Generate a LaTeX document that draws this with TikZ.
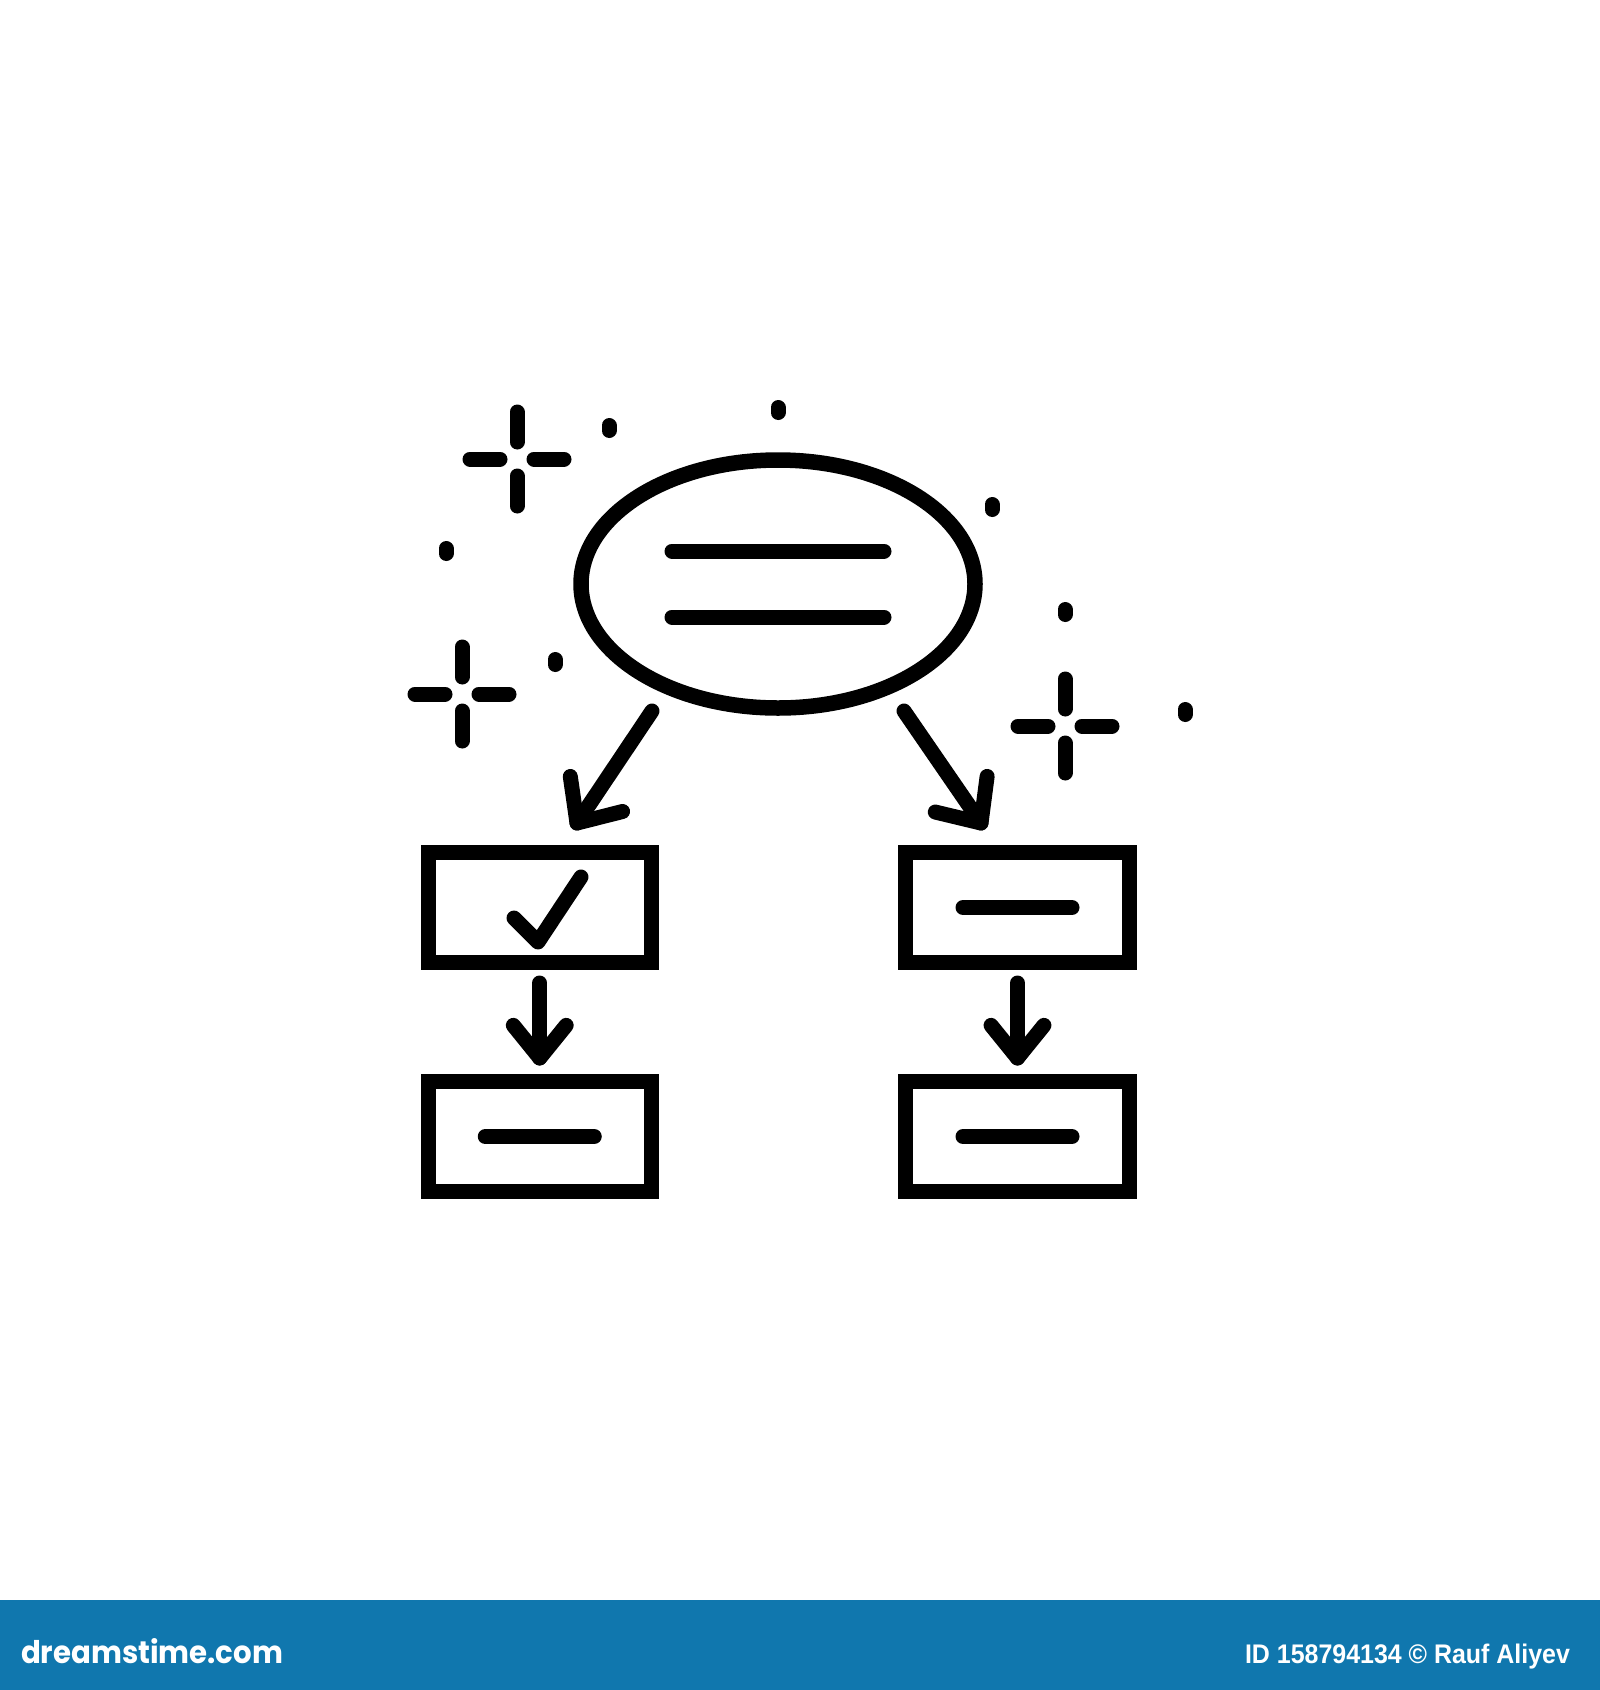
\documentclass[tikz,border=0pt]{standalone}
\usepackage{graphicx}
\usepackage{fontspec}
\setmainfont{Liberation Sans}
\newfontfamily\logofont{Poppins}
\newfontfamily\idfont{Liberation Sans}
\usetikzlibrary{calc,shapes.geometric}
\definecolor{bannerblue}{RGB}{16,119,174}
\tikzset{
  ink/.style={draw=black, line width=15pt, line cap=round, line join=round},
  boxnode/.style={draw=black, line width=15pt, rectangle, line join=miter,
    minimum width=223.5pt, minimum height=110pt, inner sep=0pt, outer sep=0pt},
  bubble/.style={draw=black, line width=15.5pt, ellipse,
    minimum width=394pt, minimum height=248pt, inner sep=0pt, outer sep=0pt},
  sparkle/.pic={\draw[ink] (0,-17)--(0,-47) (0,17)--(0,47) (-17,0)--(-47,0) (17,0)--(47,0);},
  speck/.pic={\draw[ink] (0,-2.5)--(0,2.5);},
  bannertext/.style={anchor=base west, inner sep=0pt, outer sep=0pt, text=white}
}
\begin{document}
\begin{tikzpicture}[x=1pt,y=-1pt]
\useasboundingbox (0,0) rectangle (1600,1690);
\fill[white] (0,0) rectangle (1600,1690);
\fill[bannerblue] (0,1600) rectangle (1600,1690);

% central bubble
\node[bubble] (idea) at (778,584) {};
\draw[ink] ($(idea.center)+(-106,-33)$) -- ($(idea.center)+(106,-33)$);
\draw[ink] ($(idea.center)+(-106,33)$) -- ($(idea.center)+(106,33)$);

% boxes
\node[boxnode] (b1) at (539.75,907.5) {};
\node[boxnode] (b2) at (1017.5,907.5) {};
\node[boxnode] (b3) at (539.75,1136.5) {};
\node[boxnode] (b4) at (1017.5,1136.5) {};

% box contents
\draw[ink] ($(b1.center)+(-25.75,10.5)$) -- ($(b1.center)+(-1.75,34.5)$) -- ($(b1.center)+(41.25,-30.5)$);
\draw[ink] ($(b2.center)+(-54.5,0)$) -- ($(b2.center)+(54.5,0)$);
\draw[ink] ($(b3.center)+(-54.5,0)$) -- ($(b3.center)+(54.5,0)$);
\draw[ink] ($(b4.center)+(-54.5,0)$) -- ($(b4.center)+(54.5,0)$);

% diagonal arrows
\coordinate (a1s) at ($(idea.center)+(-126,127)$);
\coordinate (a1e) at ($(b1.north)+(37.25,-29.5)$);
\draw[ink] (a1s) -- (a1e);
\draw[ink] ($(a1e)!47pt!42:(a1s)$) -- (a1e) -- ($(a1e)!47pt!-42:(a1s)$);
\coordinate (a2s) at ($(idea.center)+(126,127)$);
\coordinate (a2e) at ($(b2.north)+(-36.5,-29.5)$);
\draw[ink] (a2s) -- (a2e);
\draw[ink] ($(a2e)!47pt!42:(a2s)$) -- (a2e) -- ($(a2e)!47pt!-42:(a2s)$);

% down arrows
\coordinate (d1s) at ($(b1.south)+(0,20.5)$);
\coordinate (d1e) at ($(b3.north)+(0,-23.5)$);
\draw[ink] (d1s) -- (d1e);
\draw[ink] ($(d1e)!42pt!39:(d1s)$) -- (d1e) -- ($(d1e)!42pt!-39:(d1s)$);
\coordinate (d2s) at ($(b2.south)+(0,20.5)$);
\coordinate (d2e) at ($(b4.north)+(0,-23.5)$);
\draw[ink] (d2s) -- (d2e);
\draw[ink] ($(d2e)!42pt!39:(d2s)$) -- (d2e) -- ($(d2e)!42pt!-39:(d2s)$);

% sparkles
\pic at (517,459) {sparkle};
\pic at (462,694) {sparkle};
\pic at (1065,726) {sparkle};

% specks
\pic at (609,428) {speck};
\pic at (778,410) {speck};
\pic at (446,551) {speck};
\pic at (555,662) {speck};
\pic at (992,507) {speck};
\pic at (1065,612) {speck};
\pic at (1185,712) {speck};

% banner text
\node[bannertext] (logo) at (21,1663) {\resizebox{262pt}{25pt}{\logofont\bfseries dreamstime.com}};
\node[bannertext] (credit) at (1245,1663) {\resizebox{325pt}{19.5pt}{\idfont\bfseries ID 158794134 © Rauf Aliyev}};
\end{tikzpicture}
\end{document}
